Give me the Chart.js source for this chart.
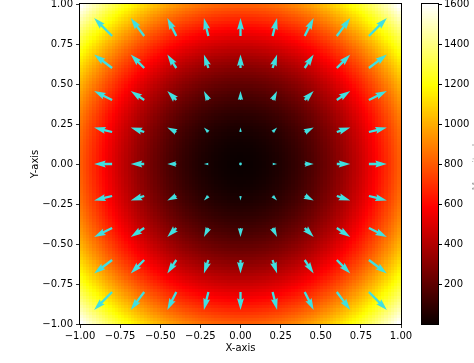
<!DOCTYPE html>
<html>
<head>
<meta charset="utf-8">
<script src="https://cdn.jsdelivr.net/npm/chart.js@4.4.1/dist/chart.umd.min.js"></script>
<style>
html,body{margin:0;padding:0;background:#fff;}
#wrap{width:474px;height:363px;position:relative;overflow:hidden;}
canvas{display:block;}
</style>
</head>
<body>
<div id="wrap"><canvas id="c" width="474" height="363"></canvas></div>
<script>
// ---- data ----
// heat contribution along one axis, from the edge (-1) to the centre (half of the 100 cells)
const heatHalf = [800,768,737,706,676,647,618,590,562,536,509,484,459,435,412,389,366,345,324,304,
                  284,265,247,229,212,196,180,165,151,137,124,112,100,89,78,69,60,51,43,36,
                  30,24,18,14,10,7,4,2,1,0];
// arrow grid (tails) and vector components per column / per row
const arrowX = [-0.8,-0.6,-0.4,-0.2,0,0.2,0.4,0.6,0.8];
const arrowY = [-0.8,-0.6,-0.4,-0.2,0,0.2,0.4,0.6,0.8];
const arrowU = [-1.6,-1.2,-0.8,-0.4,0,0.4,0.8,1.2,1.6];
const arrowV = [-1.6,-1.2,-0.8,-0.4,0,0.4,0.8,1.2,1.6];
// tick labels
const xTicks = [-1,-0.75,-0.5,-0.25,0,0.25,0.5,0.75,1];
const yTicks = [-1,-0.75,-0.5,-0.25,0,0.25,0.5,0.75,1];
const cbTicks = [200,400,600,800,1000,1200,1400,1600];
const cbRange = [0,1600];
const xTitle = 'X-axis', yTitle = 'Y-axis', cbTitle = 'Magnitude';

// ---- derived tables ----
const xProfile = heatHalf.concat(heatHalf.slice().reverse());
const yProfile = heatHalf.concat(heatHalf.slice().reverse());
const arrowData = [];
arrowY.forEach((y,j)=>arrowX.forEach((x,i)=>arrowData.push({x:x,y:y,u:arrowU[i],v:arrowV[j]})));

// ---- style ----
const FONT = {family:'DejaVu Sans', size:10};
const ARROW_COLOR = '#40e0e0';
const ARROW_SCALE = 0.07;   // data units per vector unit

function hot(t){
  t = Math.max(0, Math.min(1, t));
  const a = 0.365079, b = 0.746032;
  const r = t < a ? 0.0416 + (1-0.0416)*t/a : 1;
  const g = t < a ? 0 : (t < b ? (t-a)/(b-a) : 1);
  const bl = t < b ? 0 : (t-b)/(1-b);
  return 'rgb(' + Math.round(r*255) + ',' + Math.round(g*255) + ',' + Math.round(bl*255) + ')';
}
function fmt(v){
  const s = (Math.abs(v) < 1e-9 ? 0 : v).toFixed(2);
  return s.replace('-', '\u2212');
}

const heatPlugin = {
  id:'heat',
  beforeDatasetsDraw(chart){
    const {ctx, chartArea:ca} = chart;
    const xs = chart.scales.x, ys = chart.scales.y;
    const n = xProfile.length, m = yProfile.length;
    const xmin = xs.min, xmax = xs.max, ymin = ys.min, ymax = ys.max;
    ctx.save();
    ctx.beginPath(); ctx.rect(ca.left, ca.top, ca.right-ca.left, ca.bottom-ca.top); ctx.clip();
    for (let i=0;i<n;i++){
      const x0 = xs.getPixelForValue(xmin + (xmax-xmin)*i/n);
      const x1 = xs.getPixelForValue(xmin + (xmax-xmin)*(i+1)/n);
      for (let j=0;j<m;j++){
        const y0 = ys.getPixelForValue(ymin + (ymax-ymin)*j/m);
        const y1 = ys.getPixelForValue(ymin + (ymax-ymin)*(j+1)/m);
        const v = xProfile[i] + yProfile[j];
        ctx.fillStyle = hot((v - cbRange[0])/(cbRange[1]-cbRange[0]));
        const L = Math.floor(x0), R = Math.ceil(x1), T = Math.floor(y1), B = Math.ceil(y0);
        ctx.fillRect(L, T, R-L, B-T);
      }
    }
    ctx.restore();
  },
  afterDatasetsDraw(chart){
    const {ctx, chartArea:ca} = chart;
    const xs = chart.scales.x, ys = chart.scales.y;
    const w = 0.0072*(ca.right-ca.left);
    ctx.save();
    ctx.fillStyle = ARROW_COLOR;
    chart.data.datasets[0].data.forEach(d=>{
      const px = xs.getPixelForValue(d.x), py = ys.getPixelForValue(d.y);
      const tx = xs.getPixelForValue(d.x + d.u*ARROW_SCALE), ty = ys.getPixelForValue(d.y + d.v*ARROW_SCALE);
      const dx = tx-px, dy = ty-py, len = Math.hypot(dx,dy);
      const L = len / w;
      if (L < 1){
        ctx.beginPath(); ctx.arc(px, py, 0.6*w, 0, Math.PI*2); ctx.fill(); return;
      }
      let pts;
      if (L < 5){
        const s = L/5;
        pts = [[0,.5],[.5,.5],[0,1.5],[5,0],[0,-1.5],[.5,-.5],[0,-.5]].map(p=>[p[0]*s,p[1]*s]);
      } else {
        pts = [[0,.5],[L-4.5,.5],[L-5,1.5],[L,0],[L-5,-1.5],[L-4.5,-.5],[0,-.5]];
      }
      const c = dx/len, s2 = dy/len;
      ctx.beginPath();
      pts.forEach((p,k)=>{
        const X = px + (p[0]*c - p[1]*s2)*w, Y = py + (p[0]*s2 + p[1]*c)*w;
        if (k===0) ctx.moveTo(X,Y); else ctx.lineTo(X,Y);
      });
      ctx.closePath(); ctx.fill();
    });
    // frame
    ctx.strokeStyle = '#000'; ctx.lineWidth = 1;
    ctx.strokeRect(Math.round(ca.left)-0.5, Math.round(ca.top)-0.5, Math.round(ca.right-ca.left)+1, Math.round(ca.bottom-ca.top)+1);
    // colourbar
    const cb = chart.scales.cb;
    const bx0 = 422, bx1 = 438;
    const steps = 320;
    for (let k=0;k<steps;k++){
      const v0 = cbRange[0] + (cbRange[1]-cbRange[0])*k/steps;
      const v1 = cbRange[0] + (cbRange[1]-cbRange[0])*(k+1)/steps;
      const yA = cb.getPixelForValue(v0), yB = cb.getPixelForValue(v1);
      ctx.fillStyle = hot((v0+v1)/2/(cbRange[1]-cbRange[0]));
      ctx.fillRect(bx0, Math.floor(yB), bx1-bx0, Math.ceil(yA)-Math.floor(yB));
    }
    ctx.strokeRect(bx0-0.5, Math.round(ca.top)-0.5, bx1-bx0+1, Math.round(ca.bottom-ca.top)+1);
    ctx.beginPath();
    cbTicks.forEach(t=>{
      const y = Math.round(cb.getPixelForValue(t))+0.5;
      ctx.moveTo(bx1+0.5, y); ctx.lineTo(bx1+4, y);
    });
    ctx.stroke();
    // colourbar title (almost entirely clipped at the right edge)
    ctx.fillStyle = 'rgba(0,0,0,0.35)';
    ctx.font = '10px "DejaVu Sans"';
    ctx.textAlign = 'center'; ctx.textBaseline = 'top';
    ctx.translate(472.5, (ca.top+ca.bottom)/2);
    ctx.rotate(-Math.PI/2);
    ctx.fillText(cbTitle, 0, 0);
    ctx.restore();
  }
};

function fixTicks(arr){ return function(scale){ scale.ticks = arr.map(v=>({value:v})); }; }

new Chart(document.getElementById('c'), {
  type:'scatter',
  data:{ datasets:[{ data: arrowData, pointRadius:0, pointHoverRadius:0, showLine:false }] },
  plugins:[heatPlugin],
  options:{
    responsive:false, animation:false, devicePixelRatio:1,
    events:[],
    layout:{ padding:{ top:4, left:0, right:0, bottom:0 } },
    plugins:{ legend:{display:false}, tooltip:{enabled:false} },
    scales:{
      x:{
        type:'linear', min:-1, max:1, position:'bottom',
        afterBuildTicks: fixTicks(xTicks),
        afterFit(s){ s.height = 39; s.paddingLeft = 0; s.paddingRight = 0; },
        ticks:{ callback:v=>fmt(v), font:FONT, color:'#000', padding:2, maxRotation:0, autoSkip:false },
        grid:{ drawOnChartArea:false, drawTicks:true, tickLength:4, color:'#000', lineWidth:0.8 },
        border:{ display:false },
        title:{ display:true, text:xTitle, font:FONT, color:'#000', padding:{top:0,bottom:9} }
      },
      y:{
        type:'linear', min:-1, max:1, position:'left',
        afterBuildTicks: fixTicks(yTicks),
        afterFit(s){ s.width = 80; s.paddingTop = 0; s.paddingBottom = 0; },
        ticks:{ callback:v=>fmt(v), font:FONT, color:'#000', padding:3, autoSkip:false },
        grid:{ drawOnChartArea:false, drawTicks:true, tickLength:4, color:'#000', lineWidth:0.8 },
        border:{ display:false },
        title:{ display:true, text:yTitle, font:FONT, color:'#000', padding:{top:29,bottom:0} }
      },
      cb:{
        type:'linear', min:cbRange[0], max:cbRange[1], position:'right',
        afterBuildTicks: fixTicks(cbTicks),
        afterFit(s){ s.width = 73; s.paddingTop = 0; s.paddingBottom = 0; },
        ticks:{ callback:v=>String(v), font:FONT, color:'#000', padding:43, autoSkip:false },
        grid:{ display:false, drawTicks:false, drawOnChartArea:false },
        border:{ display:false }
      }
    }
  }
});
</script>
</body>
</html>
